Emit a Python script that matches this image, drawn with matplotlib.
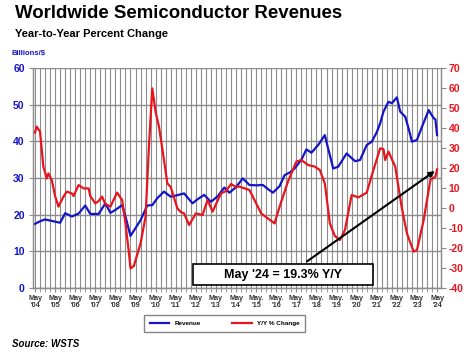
import matplotlib
matplotlib.use("Agg")
import matplotlib.pyplot as plt
from matplotlib.patches import Rectangle
import numpy as np

plt.rcParams['font.family'] = ['Liberation Sans', 'DejaVu Sans']

# months since May 2004
rev_month = [0, 3, 6, 10, 15, 18, 22, 26, 30, 33, 38, 42, 45, 48, 52, 54, 57, 63, 67, 70,
             73, 77, 81, 84, 89, 94, 97, 101, 105, 109, 113, 116, 120, 124, 128, 132, 136,
             139, 142, 146, 149, 152, 155, 159, 162, 165, 169, 173, 175, 178, 181, 186,
             191, 194, 198, 201, 204, 206, 208, 211, 213, 216, 218, 221, 223, 225, 228,
             231, 235, 238, 239, 240]
revenue = [17.5, 18.2, 18.7, 18.3, 17.8, 20.4, 19.5, 20.3, 22.5, 20.2, 20.2, 23.1, 20.5,
           21.3, 22.6, 19.5, 14.2, 18.5, 22.5, 22.6, 24.5, 26.3, 24.9, 25.2, 25.8, 23.1,
           24.2, 25.4, 23.5, 25.0, 27.4, 26.0, 27.5, 29.9, 28.1, 28.0, 28.1, 27.0, 26.0,
           27.8, 30.8, 31.5, 32.6, 35.0, 37.8, 36.9, 39.0, 41.7, 38.0, 32.6, 33.1, 36.7,
           34.6, 34.9, 39.0, 39.9, 42.5, 44.9, 48.1, 50.8, 50.4, 52.0, 48.1, 46.7, 43.5,
           39.9, 40.4, 44.0, 48.5, 46.3, 46.0, 41.7]

yoy_month = [0, 1, 3, 5, 7, 8, 10, 12, 14, 17, 19, 22, 23, 26, 29, 32, 33, 36, 38, 40, 42,
             45, 49, 52, 54, 56, 57, 59, 63, 66, 68, 70, 72, 74, 77, 79, 81, 85, 87, 89, 92,
             96, 100, 103, 106, 111, 114, 117, 120, 122, 128, 131, 135, 139, 143, 146, 151,
             156, 159, 163, 167, 170, 173, 176, 179, 182, 185, 189, 193, 198, 202, 206, 208,
             209, 211, 215, 219, 222, 226, 228, 232, 236, 239, 240]
yoy = [37.7, 40.7, 38.2, 20.7, 14.8, 17.3, 14.0, 6.0, 0.7, 5.7, 8.2, 7.3, 6.0, 11.5, 9.8,
       9.8, 6.0, 2.3, 3.5, 5.7, 2.0, 0.7, 7.7, 4.0, -7.7, -22.0, -30.2, -29.0, -17.7, -4.3,
       30.7, 59.8, 48.0, 40.7, 24.0, 12.3, 10.5, -0.2, -2.0, -2.7, -8.5, -2.7, -3.5, 4.0,
       -1.8, 7.3, 8.5, 12.0, 10.5, 10.7, 9.0, 4.0, -2.7, -5.2, -7.7, 0.7, 13.2, 23.2, 24.0,
       21.5, 20.7, 19.0, 12.3, -7.7, -14.0, -16.0, -11.0, 6.5, 5.3, 7.7, 19.0, 29.8, 29.5,
       24.0, 28.2, 20.7, -0.2, -12.7, -21.8, -21.0, -6.0, 14.0, 15.7, 19.3]

year_labels = ['May\n\'04', 'May\n\'05', 'May\n\'06', 'May\n\'07', 'May\n\'08', 'May\n\'09',
               'May\n\'10', 'May\n\'11', 'May\n\'12', 'May\n\'13', 'May\n\'14', 'May.\n\'15',
               'May.\n\'16', 'May.\n\'17', 'May.\n\'18', 'May.\n\'19', 'May\n\'20', 'May\n\'21',
               'May\n\'22', 'May\n\'23', 'May\n\'24']
left_ticks = [0, 10, 20, 30, 40, 50, 60]
right_ticks = [-40, -30, -20, -10, 0, 10, 20, 30, 40, 50, 60, 70]

BLUE = '#1414c8'
RED = '#e8141e'
GRID = '#8c8c8c'

fig = plt.figure(figsize=(4.74, 3.55), dpi=100)
ax = fig.add_axes([0.0696, 0.1887, 0.861, 0.6197])
ax2 = ax.twinx()

ax.set_xlim(-1.2, 242.4)
ax.set_ylim(0, 60)
ax2.set_ylim(-40, 70)

# grid
ax.set_xticks(np.arange(0, 241, 3), minor=True)
ax.set_xticks(np.arange(0, 241, 12))
ax.grid(True, which='both', axis='x', color=GRID, lw=0.8)
ax.grid(True, which='major', axis='y', color=GRID, lw=1.0)
ax.set_axisbelow(True)

ax.plot(rev_month, revenue, color=BLUE, lw=1.6, label='Revenue', zorder=3)
ax2.plot(yoy_month, yoy, color=RED, lw=1.6, label='Y/Y % Change', zorder=3)

ax.set_yticks(left_ticks)
ax.set_yticklabels([str(v) for v in left_ticks], color=BLUE, fontweight='bold', fontsize=7.5)
ax2.set_yticks(right_ticks)
ax2.set_yticklabels([str(v) for v in right_ticks], color=RED, fontweight='bold', fontsize=7.5)
ax.set_xticklabels(year_labels, fontsize=5.2, fontweight='bold', color='#333333', linespacing=1.1)

ax.tick_params(axis='y', length=3, color=GRID, pad=3)
ax2.tick_params(axis='y', length=3.5, color=GRID, pad=2)
ax.tick_params(axis='x', which='both', length=3, color=GRID, pad=2)

for a in (ax, ax2):
    for s in a.spines.values():
        s.set_color(GRID)
        s.set_linewidth(0.9)
    a.spines['top'].set_visible(False)

# annotation box and arrow
ax.add_patch(Rectangle((0.392, 0.012), 0.441, 0.097, transform=ax.transAxes,
                       facecolor='white', edgecolor='black', lw=1.2, zorder=5))
ax.text(0.6125, 0.061, "May '24 = 19.3% Y/Y", transform=ax.transAxes, ha='center', va='center',
        fontsize=9, fontweight='bold', color='black', zorder=6)
ax2.annotate('', xy=(240, 19.3), xytext=(161, -27.5),
             arrowprops=dict(arrowstyle='-|>', color='black', lw=1.5, mutation_scale=8),
             zorder=6)

# legend
fig.legend(handles=ax.get_lines() + ax2.get_lines(), loc='center', bbox_to_anchor=(0.474, 0.0887),
           ncol=2, fontsize=4.6, frameon=True, fancybox=False, edgecolor='#666666',
           handlelength=3, columnspacing=5, borderpad=0.9,
           prop={'weight': 'bold', 'size': 4.6})

fig.text(0.032, 0.962, 'Worldwide Semiconductor Revenues', fontsize=13.4, fontweight='bold',
         ha='left', va='center', color='black')
fig.text(0.032, 0.904, 'Year-to-Year Percent Change', fontsize=8, fontweight='bold',
         ha='left', va='center', color='black')
fig.text(0.025, 0.848, 'Billions/$', fontsize=5.5, fontweight='bold', ha='left', va='center',
         color=BLUE)
fig.text(0.025, 0.031, 'Source: WSTS', fontsize=7, fontweight='bold', fontstyle='italic',
         ha='left', va='center', color='black')

fig.savefig('out.png', dpi=100, facecolor='white')
